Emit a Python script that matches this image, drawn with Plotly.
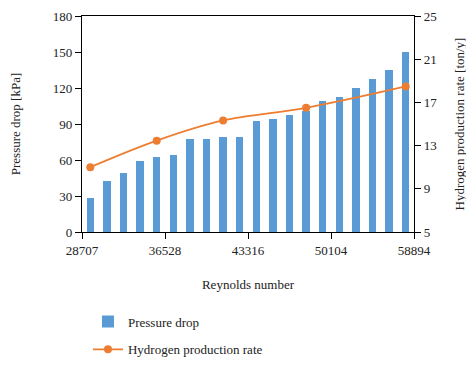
import plotly.graph_objects as go

# Data
bar_index = list(range(20))
pressure_drop = [28.5, 42.6, 48.8, 59.0, 62.1, 63.9, 77.1, 77.7, 78.9, 79.5,
                 92.2, 94.3, 97.2, 100.5, 109.3, 112.5, 120.3, 127.3, 135.3, 150.1]
h2_index = [0, 4, 8, 13, 19]
h2_rate = [11.0, 13.46, 15.33, 16.5, 18.48]
x_tick_pos = [-0.5, 4.5, 9.5, 14.5, 19.5]
x_tick_labels = ["28707", "36528", "43316", "50104", "58894"]

FONT = "Liberation Serif, Times New Roman, serif"
BLUE = "#5B9BD5"
ORANGE = "#ED7D31"

fig = go.Figure()
fig.add_trace(go.Bar(
    x=bar_index, y=pressure_drop, name="Pressure drop",
    marker=dict(color=BLUE, line=dict(width=0)), width=0.44,
    legendgroup="a",
))
fig.add_trace(go.Scatter(
    x=h2_index, y=h2_rate, name="Hydrogen production rate", yaxis="y2",
    mode="lines+markers", line=dict(color=ORANGE, width=1.8, shape="spline"),
    marker=dict(color=ORANGE, size=8), legendgroup="b",
))

axis_common = dict(showline=True, linecolor="black", linewidth=1.3,
                   ticks="outside", tickcolor="black", ticklen=6,
                   tickfont=dict(family=FONT, size=13, color="#222"),
                   showgrid=False, zeroline=False, automargin=False)

fig.update_layout(
    width=474, height=365,
    margin=dict(l=74, r=68, t=8, b=126),
    paper_bgcolor="white", plot_bgcolor="white",
    font=dict(family=FONT, size=13, color="#222"),
    showlegend=True,
    bargap=0,
    xaxis=dict(range=[-0.5, 19.5], tickvals=x_tick_pos, ticktext=x_tick_labels,
               mirror=True,
               title=dict(text="Reynolds number", font=dict(family=FONT, size=13), standoff=23),
               **axis_common),
    yaxis=dict(range=[0, 180], tickvals=[0, 30, 60, 90, 120, 150, 180],
               title=dict(text="Pressure drop [kPa]", font=dict(family=FONT, size=13), standoff=38),
               **axis_common),
    yaxis2=dict(range=[5, 25], tickvals=[5, 9, 13, 17, 21, 25], overlaying="y", side="right",
                title=dict(text="Hydrogen production rate [ton/y]", font=dict(family=FONT, size=13), standoff=18),
                **axis_common),
    legend=dict(x=0.018, y=-0.345, xanchor="left", yanchor="top", xref="paper", yref="paper",
                orientation="v", traceorder="grouped", tracegroupgap=8,
                font=dict(family=FONT, size=13, color="#222"), bgcolor="rgba(0,0,0,0)"),
)

fig.write_html("out.html")
